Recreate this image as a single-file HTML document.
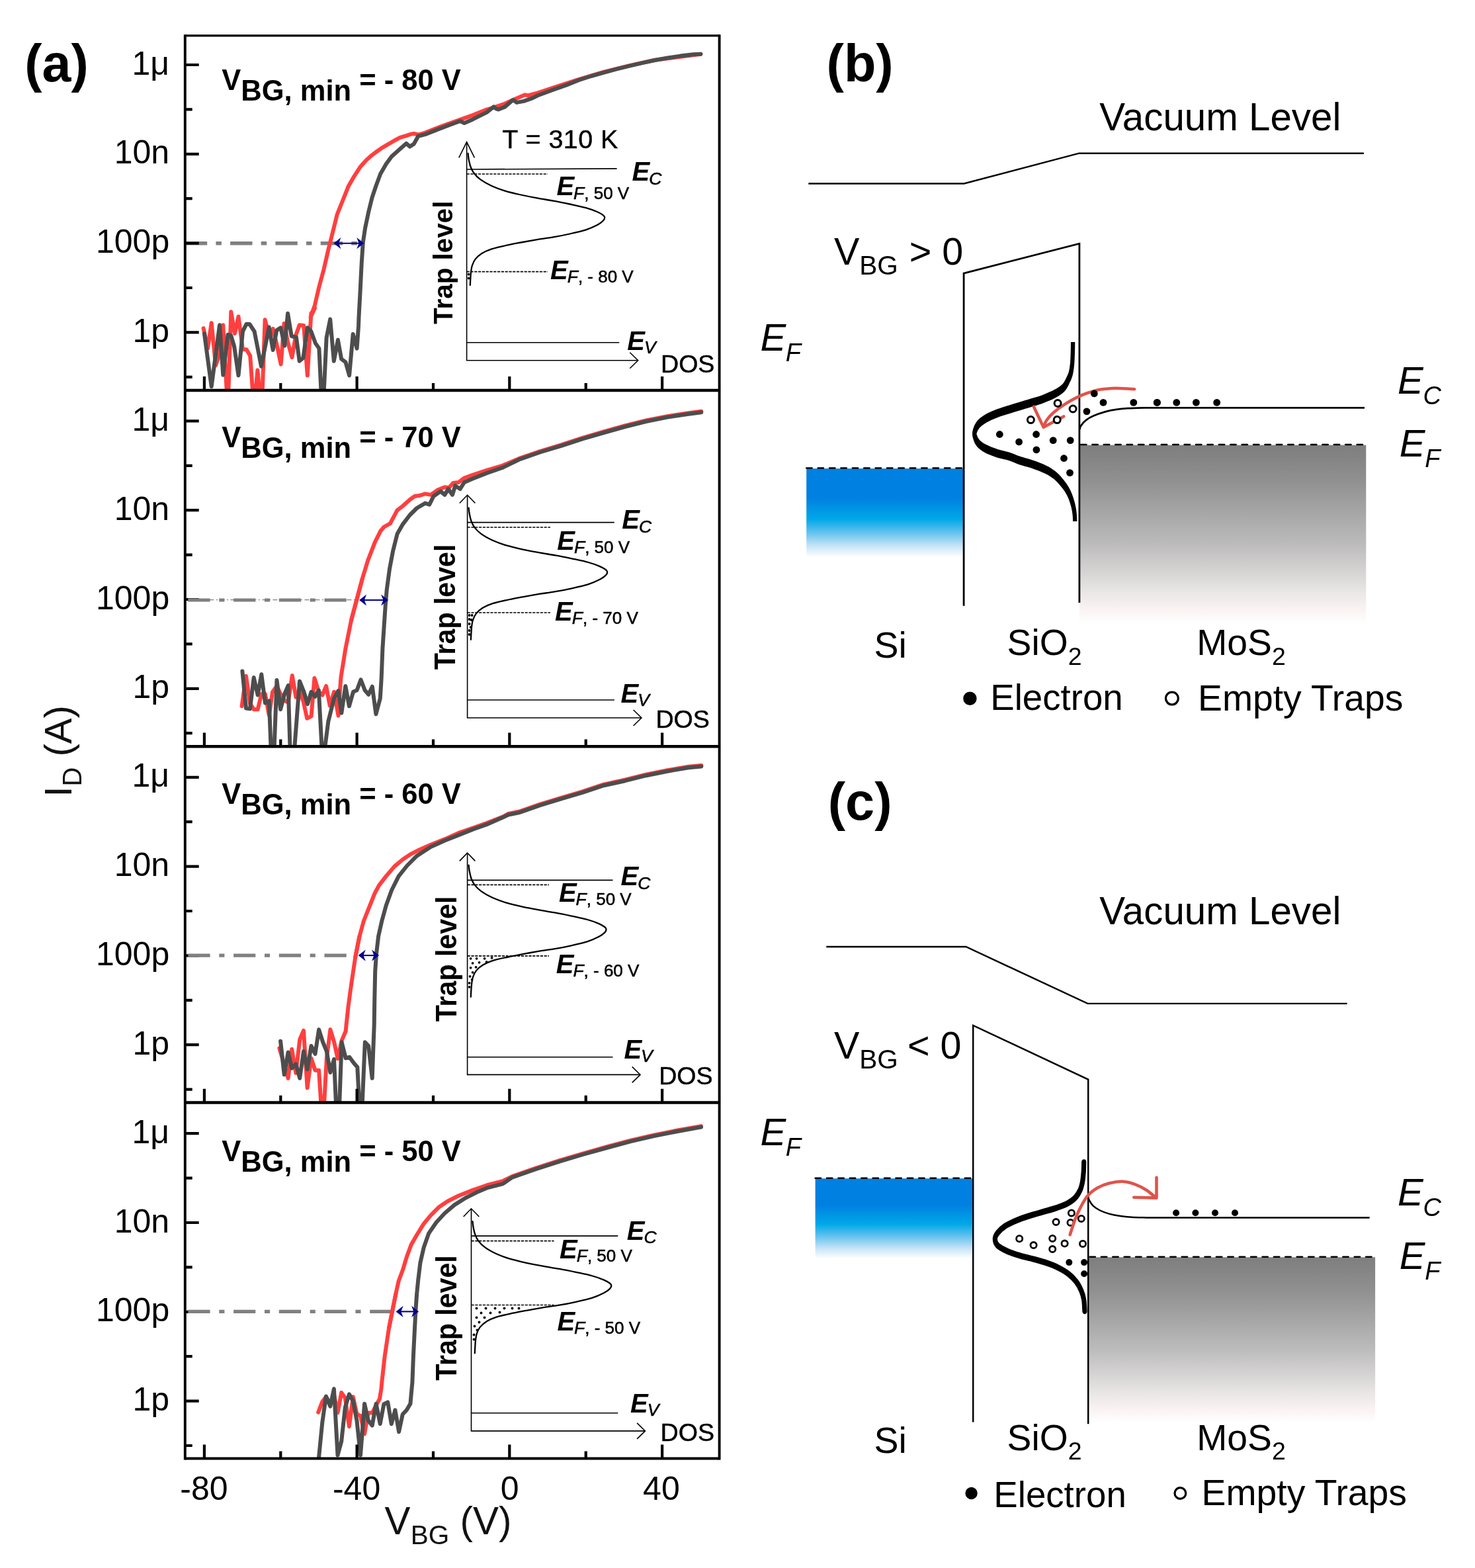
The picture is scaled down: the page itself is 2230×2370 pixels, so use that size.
<!DOCTYPE html>
<html lang="en">
<head>
<meta charset="utf-8">
<title>Figure: hysteresis vs back-gate sweep range and trap band diagrams</title>
<style>
html,body{margin:0;padding:0;background:#fff;}
body{width:2230px;height:2370px;overflow:hidden;}
svg{display:block;font-family:"Liberation Sans", Arial, Helvetica, sans-serif;}
</style>
</head>
<body>
<svg width="2230" height="2370" viewBox="0 0 2230 2370">
<defs>
<clipPath id="cp0"><rect x="279.8" y="53.9" width="807.8" height="536.1"/></clipPath>
<clipPath id="cp1"><rect x="279.8" y="590.0" width="807.8" height="538.3"/></clipPath>
<clipPath id="cp2"><rect x="279.8" y="1128.3" width="807.8" height="538.3"/></clipPath>
<clipPath id="cp3"><rect x="279.8" y="1666.6" width="807.8" height="537.9"/></clipPath>
</defs>
<g id="panel-a">
<g clip-path="url(#cp0)">
<line x1="279.8" y1="367.7" x2="541.0" y2="367.7" stroke="#808080" stroke-width="5.5" stroke-dasharray="33.4 13.2 8.5 13.2"/>
<polyline points="307.6,496.1 314.1,526.6 319.7,488.1 326.1,552.2 331.7,536.2 337.3,491.3 342.9,593.9 345.3,593.9 349.3,471.3 354.9,504.1 360.5,478.5 367.0,528.2 372.6,528.2 378.2,537.8 382.2,593.9 386.2,593.9 389.4,559.4 392.6,593.9 396.6,593.9 400.6,483.3 407.0,507.3 412.7,496.9 418.3,520.2 424.7,550.6 429.5,488.9 435.1,517.0 441.5,540.2 447.1,507.3 452.7,491.3 459.2,492.1 464.8,567.5 470.4,473.7 476.0,465.7 469.6,479.4 475.9,461.4 482.3,434.0 489.7,406.5 496.0,379.0 503.4,349.5 509.7,324.1 518.2,303.0 526.6,281.8 535.1,267.1 544.6,252.3 554.1,241.7 562.5,234.3 571.0,228.0 579.4,222.3 587.9,217.4 596.3,212.5 604.8,207.9 613.3,205.4 621.7,202.6 625.9,202.0 633.3,203.7 642.8,200.5 661.8,193.1 678.7,186.8 695.7,180.9 714.7,174.1 735.8,165.6 740.0,164.5 763.1,156.8 775.6,151.0 793.9,143.3 797.7,144.3 813.1,140.4 836.2,132.7 874.7,120.2 913.2,108.7 951.7,99.1 990.1,90.8 1059.4,81.7" fill="none" stroke="#ff3f3f" stroke-width="6.0" stroke-linejoin="round" stroke-linecap="round"/>
<polyline points="308.9,504.1 319.7,584.3 332.0,491.3 337.3,566.7 344.5,505.7 349.3,507.3 354.1,523.4 360.5,567.5 367.0,500.9 372.6,489.7 377.4,490.0 384.6,500.9 395.0,553.8 406.7,494.5 412.7,529.0 418.3,499.3 424.4,495.3 430.3,522.6 435.1,473.7 440.7,508.1 447.9,509.7 452.7,545.8 458.4,541.0 464.8,495.3 470.4,500.9 476.8,518.6 482.4,526.6 485.6,593.9 489.6,593.9 493.6,510.5 499.2,482.5 504.8,545.8 510.9,513.8 516.1,542.6 522.5,547.4 528.1,567.5 533.7,504.9 539.6,526.6 542.0,492.9 542.5,479.4 544.6,440.3 546.7,398.1 548.8,366.4 552.0,345.2 557.3,319.9 562.5,298.7 568.9,279.7 575.2,262.8 583.7,248.0 592.1,236.4 602.7,226.9 614.3,216.8 619.6,221.6 625.9,217.4 632.3,205.8 642.8,203.2 661.8,195.6 678.7,189.3 695.7,183.0 702.0,186.1 714.7,180.4 735.8,169.9 746.4,161.4 750.6,164.6 753.5,165.5 763.1,161.6 775.6,151.0 781.4,154.9 792.0,152.9 805.4,148.1 813.1,144.3 836.2,135.6 855.5,128.9 874.7,121.2 893.9,115.0 913.2,109.6 932.4,104.3 951.7,99.6 970.9,95.2 990.1,91.0 1009.4,87.5 1028.6,84.6 1047.9,82.3 1059.4,81.7" fill="none" stroke="#4d4d4d" stroke-width="6.0" stroke-linejoin="round" stroke-linecap="round"/>
</g>
<g clip-path="url(#cp1)">
<polyline points="365.6,1067.4 372.0,1021.7 378.0,1063.4 383.7,1072.2 389.7,1072.2 395.3,1048.9 400.9,1048.9 406.8,1081.0 412.1,1045.7 418.5,1036.9 424.1,1048.9 430.2,1058.6 435.7,1061.8 441.8,1020.9 447.4,1053.8 453.0,1044.1 458.6,1060.2 464.2,1085.8 470.6,1082.6 475.4,1024.9 481.9,1045.7 487.5,1050.5 493.1,1036.9 498.7,1066.6 505.1,1045.7 511.5,1081.8 513.9,1044.1 515.5,1023.3 516.1,1019.4 522.4,980.3 530.9,938.1 539.3,906.4 547.8,874.7 556.2,847.2 566.8,819.7 575.2,802.8 580.5,796.5 590.0,791.2 600.6,771.1 609.0,764.8 619.6,755.3 627.0,750.0 634.4,749.0 642.8,746.4 651.3,747.9 661.8,740.5 672.4,736.3 678.7,737.3 685.1,729.9 693.5,728.9 702.0,722.5 714.7,717.9 735.8,710.9 760.1,703.5 784.5,693.2 816.6,682.0 848.6,672.4 880.7,661.8 912.8,652.5 944.9,643.5 976.9,635.5 1009.0,629.1 1041.1,624.2 1060.3,621.7" fill="none" stroke="#ff3f3f" stroke-width="6.0" stroke-linejoin="round" stroke-linecap="round"/>
<polyline points="366.4,1014.5 372.0,1070.6 378.0,1071.4 383.7,1024.1 389.7,1050.5 395.3,1019.3 400.9,1062.6 406.8,1059.4 409.7,1133.9 414.5,1133.9 418.5,1028.1 424.1,1072.2 430.2,1048.9 435.7,1036.1 438.6,1133.9 445.0,1133.9 453.0,1029.7 459.4,1045.7 465.0,1064.2 470.6,1045.7 476.2,1053.0 481.9,1043.3 486.7,1133.9 490.7,1133.9 496.3,1090.6 505.1,1055.4 511.5,1044.1 516.3,1077.8 522.3,1036.9 527.9,1067.4 534.0,1045.7 539.6,1043.3 545.5,1027.3 551.6,1043.3 557.2,1049.7 562.8,1037.7 568.4,1079.4 574.8,1055.4 576.5,1028.1 576.9,1019.4 578.4,980.3 580.5,948.6 582.6,916.9 584.7,891.6 589.0,859.9 594.2,832.4 600.6,807.1 609.0,792.3 619.6,778.5 630.2,768.0 642.8,760.6 649.2,762.7 655.5,750.0 666.1,742.6 672.4,747.9 677.7,739.0 684.0,747.9 688.3,734.2 695.7,739.0 702.0,728.9 714.7,723.6 735.8,715.1 760.1,706.7 784.5,694.7 816.6,683.5 848.6,673.9 880.7,663.3 912.8,654.0 944.9,645.0 976.9,637.0 1009.0,630.6 1041.1,625.7 1060.3,623.2" fill="none" stroke="#4d4d4d" stroke-width="6.0" stroke-linejoin="round" stroke-linecap="round"/>
</g>
<g clip-path="url(#cp2)">
<polyline points="422.4,1584.1 429.7,1609.8 435.6,1629.8 441.2,1585.7 447.3,1621.8 453.2,1571.3 459.0,1557.7 464.6,1644.3 470.5,1599.4 476.5,1617.8 482.1,1617.8 485.8,1673.9 489.8,1673.9 493.8,1600.2 499.4,1556.1 505.0,1574.5 510.6,1600.2 516.6,1572.9 522.7,1558.5 523.5,1549.4 526.6,1520.9 530.9,1489.2 537.2,1446.9 543.5,1415.2 549.9,1392.0 558.3,1370.9 566.8,1349.7 573.1,1338.1 583.7,1324.4 596.3,1309.6 609.0,1299.0 621.7,1290.6 634.4,1284.2 651.3,1276.8 672.4,1268.4 693.5,1258.9 714.7,1251.5 735.8,1244.1 760.1,1234.6 768.5,1230.0 784.5,1226.8 816.6,1215.6 848.6,1205.9 880.7,1196.3 912.8,1185.7 944.9,1178.7 976.9,1170.7 1009.0,1164.2 1041.1,1158.8 1060.3,1156.9" fill="none" stroke="#ff3f3f" stroke-width="6.0" stroke-linejoin="round" stroke-linecap="round"/>
<polyline points="424.1,1573.7 429.7,1624.2 435.6,1590.5 441.2,1614.6 447.3,1608.2 453.2,1629.8 459.0,1588.9 464.6,1616.2 470.5,1580.9 476.5,1593.0 482.1,1556.1 487.9,1574.5 493.8,1588.9 499.4,1621.0 505.0,1601.0 508.2,1673.9 513.0,1673.9 516.6,1575.3 522.7,1599.4 528.3,1597.8 534.7,1606.6 540.3,1613.0 543.5,1673.9 547.5,1673.9 551.8,1575.3 557.1,1580.9 562.7,1629.8 564.8,1572.9 565.7,1549.4 566.3,1510.3 567.2,1468.1 568.9,1442.7 572.1,1415.2 577.3,1392.0 583.7,1368.7 592.1,1345.5 602.7,1324.4 615.4,1308.5 630.2,1293.7 651.3,1280.0 672.4,1270.5 693.5,1262.1 714.7,1253.6 735.8,1246.2 760.1,1235.6 768.5,1231.5 784.5,1228.3 816.6,1217.1 848.6,1207.4 880.7,1197.8 912.8,1187.2 944.9,1180.2 976.9,1172.2 1009.0,1165.7 1041.1,1160.3 1060.3,1158.4" fill="none" stroke="#4d4d4d" stroke-width="6.0" stroke-linejoin="round" stroke-linecap="round"/>
</g>
<g clip-path="url(#cp3)">
<polyline points="481.2,2134.6 487.3,2118.5 492.9,2111.3 499.3,2120.9 504.9,2108.1 510.5,2135.4 516.2,2104.9 521.8,2112.9 527.9,2156.2 533.8,2111.3 539.4,2137.0 545.0,2140.2 551.1,2167.4 556.6,2135.4 562.7,2135.4 568.6,2124.1 573.9,2114.5 576.3,2100.1 577.3,2089.4 581.6,2050.3 587.9,2008.1 594.2,1976.4 598.5,1955.2 602.7,1936.2 609.0,1919.3 615.4,1898.2 621.7,1881.3 630.2,1866.5 640.7,1849.6 651.3,1836.9 664.0,1824.2 676.6,1815.8 693.5,1807.3 714.7,1798.9 735.8,1791.5 760.1,1785.1 774.3,1778.1 810.0,1765.6 845.7,1754.2 881.4,1743.5 917.1,1733.5 952.9,1723.9 988.6,1715.6 1024.3,1708.5 1060.0,1702.1" fill="none" stroke="#ff3f3f" stroke-width="6.0" stroke-linejoin="round" stroke-linecap="round"/>
<polyline points="480.9,2213.9 482.0,2203.5 487.3,2149.8 492.9,2110.5 499.3,2125.7 504.9,2099.3 510.5,2199.5 516.2,2178.6 521.8,2127.3 527.9,2107.3 533.8,2117.7 539.4,2146.6 545.0,2199.5 551.1,2121.7 556.6,2146.6 562.7,2154.6 568.6,2121.7 574.7,2152.2 580.3,2122.5 586.2,2119.3 591.8,2152.2 597.4,2131.3 603.1,2164.2 608.7,2137.8 614.8,2131.3 620.4,2121.7 622.1,2103.3 623.4,2089.4 624.9,2050.3 627.0,2008.1 628.7,1976.4 630.2,1955.2 632.3,1934.1 635.4,1908.7 640.7,1885.5 648.1,1864.4 659.7,1847.5 672.4,1833.7 687.2,1821.1 704.1,1810.5 721.0,1802.1 735.8,1795.7 760.1,1789.4 774.3,1779.6 810.0,1767.1 845.7,1755.7 881.4,1745.0 917.1,1735.0 952.9,1725.4 988.6,1717.1 1024.3,1710.0 1060.0,1703.6" fill="none" stroke="#4d4d4d" stroke-width="6.0" stroke-linejoin="round" stroke-linecap="round"/>
</g>
<path d="M281.2 98.0h19.5M281.2 165.4h9.5M281.2 232.8h19.5M281.2 300.2h9.5M281.2 367.6h19.5M281.2 435.0h9.5M281.2 502.4h19.5M281.2 569.8h9.5M308.9 588.6v-19.5M424.3 588.6v-9.5M539.6 588.6v-19.5M655.0 588.6v-9.5M770.3 588.6v-19.5M885.7 588.6v-9.5M1001.1 588.6v-19.5M281.2 636.4h19.5M281.2 703.8h9.5M281.2 771.2h19.5M281.2 838.6h9.5M281.2 906.0h19.5M281.2 973.4h9.5M281.2 1040.8h19.5M281.2 1108.2h9.5M308.9 1126.9v-19.5M424.3 1126.9v-9.5M539.6 1126.9v-19.5M655.0 1126.9v-9.5M770.3 1126.9v-19.5M885.7 1126.9v-9.5M1001.1 1126.9v-19.5M281.2 1174.8h19.5M281.2 1242.2h9.5M281.2 1309.6h19.5M281.2 1377.0h9.5M281.2 1444.4h19.5M281.2 1511.8h9.5M281.2 1579.2h19.5M281.2 1646.6h9.5M308.9 1665.2v-19.5M424.3 1665.2v-9.5M539.6 1665.2v-19.5M655.0 1665.2v-9.5M770.3 1665.2v-19.5M885.7 1665.2v-9.5M1001.1 1665.2v-19.5M281.2 1713.2h19.5M281.2 1780.6h9.5M281.2 1848.0h19.5M281.2 1915.4h9.5M281.2 1982.8h19.5M281.2 2050.2h9.5M281.2 2117.6h19.5M281.2 2185.0h9.5M308.9 2203.1v-19.5M424.3 2203.1v-9.5M539.6 2203.1v-19.5M655.0 2203.1v-9.5M770.3 2203.1v-19.5M885.7 2203.1v-9.5M1001.1 2203.1v-19.5" stroke="#000" stroke-width="4.2" fill="none"/>
<path d="M279.8 52.3V2206.4M1087.6 52.3V2206.4" fill="none" stroke="#000" stroke-width="3.9"/>
<line x1="279.8" y1="53.9" x2="1087.6" y2="53.9" stroke="#000" stroke-width="3.2" />
<line x1="279.8" y1="2204.5" x2="1087.6" y2="2204.5" stroke="#000" stroke-width="3.8" />
<line x1="279.8" y1="590.0" x2="1087.6" y2="590.0" stroke="#000" stroke-width="4.5" />
<line x1="279.8" y1="1128.3" x2="1087.6" y2="1128.3" stroke="#000" stroke-width="4.5" />
<line x1="279.8" y1="1666.6" x2="1087.6" y2="1666.6" stroke="#000" stroke-width="4.5" />
<g stroke="#00008b" fill="#00008b">
<line x1="508.4" y1="367.7" x2="546.3" y2="367.7" stroke-width="2.1"/>
<path d="M504.4 367.7 l11 -8.6 l-3.3 8.6 l3.3 8.6 z" stroke="none"/>
<path d="M550.3 367.7 l-11 -8.6 l3.3 8.6 l-3.3 8.6 z" stroke="none"/>
</g>
<line x1="284.4" y1="906.7" x2="537.0" y2="906.7" stroke="#808080" stroke-width="1.3" stroke-dasharray="7 3.5 2 3.5"/>
<line x1="284.4" y1="907.0" x2="524.0" y2="907.0" stroke="#808080" stroke-width="5.1" stroke-dasharray="33.2 13.7 8.1 13.7"/>
<g clip-path="url(#cp1)">
<polyline points="530.9,938.1 539.3,906.4 547.8,874.7" fill="none" stroke="#ff3f3f" stroke-width="6.0" stroke-linejoin="round" stroke-linecap="round"/>
</g>
<g stroke="#00008b" fill="#00008b">
<line x1="547.1" y1="907.0" x2="583.1" y2="907.0" stroke-width="2.1"/>
<path d="M543.1 907.0 l11 -8.6 l-3.3 8.6 l3.3 8.6 z" stroke="none"/>
<path d="M587.1 907.0 l-11 -8.6 l3.3 8.6 l-3.3 8.6 z" stroke="none"/>
</g>
<line x1="284.4" y1="1444.1" x2="524.0" y2="1444.1" stroke="#808080" stroke-width="5.1" stroke-dasharray="33.2 13.7 8.1 13.7"/>
<g clip-path="url(#cp2)">
<polyline points="537.2,1446.9 543.5,1415.2" fill="none" stroke="#ff3f3f" stroke-width="6.0" stroke-linejoin="round" stroke-linecap="round"/>
</g>
<g stroke="#00008b" fill="#00008b">
<line x1="545.7" y1="1444.1" x2="569.1" y2="1444.1" stroke-width="2.1"/>
<path d="M541.7 1444.1 l11 -8.6 l-3.3 8.6 l3.3 8.6 z" stroke="none"/>
<path d="M573.1 1444.1 l-11 -8.6 l3.3 8.6 l-3.3 8.6 z" stroke="none"/>
</g>
<line x1="284.4" y1="1982.4" x2="596.0" y2="1982.4" stroke="#808080" stroke-width="5.1" stroke-dasharray="33.2 13.7 8.1 13.7"/>
<g clip-path="url(#cp3)">
<polyline points="587.9,2008.1 594.2,1976.4 598.5,1955.2" fill="none" stroke="#ff3f3f" stroke-width="6.0" stroke-linejoin="round" stroke-linecap="round"/>
</g>
<g stroke="#00008b" fill="#00008b">
<line x1="602.6" y1="1982.4" x2="629.1" y2="1982.4" stroke-width="2.1"/>
<path d="M598.6 1982.4 l11 -8.6 l-3.3 8.6 l3.3 8.6 z" stroke="none"/>
<path d="M633.1 1982.4 l-11 -8.6 l3.3 8.6 l-3.3 8.6 z" stroke="none"/>
</g>
<text x="256.2" y="112.5" font-size="50" font-weight="normal" font-style="normal" text-anchor="end" fill="#000" >1μ</text>
<text x="256.2" y="247.3" font-size="50" font-weight="normal" font-style="normal" text-anchor="end" fill="#000" >10n</text>
<text x="256.2" y="382.1" font-size="50" font-weight="normal" font-style="normal" text-anchor="end" fill="#000" >100p</text>
<text x="256.2" y="516.9" font-size="50" font-weight="normal" font-style="normal" text-anchor="end" fill="#000" >1p</text>
<text x="256.2" y="650.9" font-size="50" font-weight="normal" font-style="normal" text-anchor="end" fill="#000" >1μ</text>
<text x="256.2" y="785.7" font-size="50" font-weight="normal" font-style="normal" text-anchor="end" fill="#000" >10n</text>
<text x="256.2" y="920.5" font-size="50" font-weight="normal" font-style="normal" text-anchor="end" fill="#000" >100p</text>
<text x="256.2" y="1055.3" font-size="50" font-weight="normal" font-style="normal" text-anchor="end" fill="#000" >1p</text>
<text x="256.2" y="1189.3" font-size="50" font-weight="normal" font-style="normal" text-anchor="end" fill="#000" >1μ</text>
<text x="256.2" y="1324.1" font-size="50" font-weight="normal" font-style="normal" text-anchor="end" fill="#000" >10n</text>
<text x="256.2" y="1458.9" font-size="50" font-weight="normal" font-style="normal" text-anchor="end" fill="#000" >100p</text>
<text x="256.2" y="1593.7" font-size="50" font-weight="normal" font-style="normal" text-anchor="end" fill="#000" >1p</text>
<text x="256.2" y="1727.7" font-size="50" font-weight="normal" font-style="normal" text-anchor="end" fill="#000" >1μ</text>
<text x="256.2" y="1862.5" font-size="50" font-weight="normal" font-style="normal" text-anchor="end" fill="#000" >10n</text>
<text x="256.2" y="1997.3" font-size="50" font-weight="normal" font-style="normal" text-anchor="end" fill="#000" >100p</text>
<text x="256.2" y="2132.1" font-size="50" font-weight="normal" font-style="normal" text-anchor="end" fill="#000" >1p</text>
<text x="308.4" y="2267.0" font-size="50" font-weight="normal" font-style="normal" text-anchor="middle" fill="#000" >-80</text>
<text x="539.1" y="2267.0" font-size="50" font-weight="normal" font-style="normal" text-anchor="middle" fill="#000" >-40</text>
<text x="770.6" y="2267.0" font-size="50" font-weight="normal" font-style="normal" text-anchor="middle" fill="#000" >0</text>
<text x="999.9" y="2267.0" font-size="50" font-weight="normal" font-style="normal" text-anchor="middle" fill="#000" >40</text>
<text x="581.4" y="2319.4" font-size="58.4" fill="#111">V<tspan font-size="40.5" dy="14.6" dx="0.5">BG</tspan><tspan dy="-14.6"> (V)</tspan></text>
<text transform="translate(107.6 1204.6) rotate(-90)" font-size="58" fill="#111">I<tspan font-size="40" dy="15.7">D</tspan><tspan dy="-15.7"> (A)</tspan></text>
<text x="37.3" y="123.0" font-size="79" font-weight="bold" font-style="normal" text-anchor="start" fill="#000" >(a)</text>
<text x="335.3" y="135.9" font-size="43.5" font-weight="bold">V<tspan dy="16.4">BG, min</tspan><tspan dy="-16.4"> = - 80 V</tspan></text>
<text x="335.3" y="675.9" font-size="43.5" font-weight="bold">V<tspan dy="16.4">BG, min</tspan><tspan dy="-16.4"> = - 70 V</tspan></text>
<text x="335.3" y="1214.5" font-size="43.5" font-weight="bold">V<tspan dy="16.4">BG, min</tspan><tspan dy="-16.4"> = - 60 V</tspan></text>
<text x="335.3" y="1754.7" font-size="43.5" font-weight="bold">V<tspan dy="16.4">BG, min</tspan><tspan dy="-16.4"> = - 50 V</tspan></text>
<g id="insets" fill="none" stroke="#000">
<path d="M705.6 215.6V544.8H963.6" stroke-width="1.6"/><path d="M693.8 238.4L705.6 214.6L717.4 238.4" stroke-width="1.6"/><path d="M952.3 532.8L964.6 544.8L952.3 556.8" stroke-width="1.6"/><path d="M705.6 256.0L932.6 254.9" stroke-width="1.7"/><path d="M705.6 517.8H936.3" stroke-width="1.6"/><path d="M705.6 263.0H828.0" stroke-width="1.7" stroke-dasharray="4.2 1.6"/><path d="M705.6 410.6H828.0" stroke-width="1.7" stroke-dasharray="4.2 1.6"/><path d="M707.6 231.8C707.7 232.6 707.9 235.1 708.1 236.7C708.3 238.4 708.3 239.2 708.8 241.6C709.4 244.1 710.1 248.2 711.3 251.5C712.5 254.7 713.8 258.0 716.2 261.3C718.7 264.6 721.6 267.9 726.1 271.1C730.6 274.4 737.1 278.1 743.3 281.0C749.4 283.8 755.6 286.1 762.9 288.4C770.3 290.6 779.3 292.7 787.5 294.5C795.7 296.3 803.9 297.9 812.1 299.4C820.3 300.9 828.5 302.1 836.7 303.6C844.9 305.1 853.1 306.8 861.3 308.5C869.5 310.3 878.9 312.2 885.9 314.2C892.8 316.1 898.8 318.5 903.1 320.3C907.4 322.2 909.9 323.8 911.7 325.2C913.5 326.7 914.2 327.5 914.2 328.9C914.2 330.4 913.5 332.0 911.7 333.8C909.9 335.7 907.4 337.7 903.1 340.0C898.8 342.2 892.8 345.1 885.9 347.4C878.9 349.6 869.5 351.7 861.3 353.5C853.1 355.4 844.9 357.0 836.7 358.4C828.5 359.9 820.3 360.8 812.1 362.1C803.9 363.5 795.7 365.0 787.5 366.5C779.3 368.1 770.3 369.8 762.9 371.5C755.6 373.1 749.0 374.5 743.3 376.4C737.5 378.3 732.6 380.5 728.5 383.0C724.4 385.6 721.1 388.5 718.7 391.6C716.2 394.7 714.9 398.2 713.8 401.5C712.7 404.7 712.5 408.0 712.0 411.3C711.6 414.6 711.5 417.9 711.3 421.1C711.1 424.4 710.9 429.3 710.8 431.0" stroke-width="2.3" stroke-linecap="round"/><circle cx="708.6" cy="414.6" r="1.9" fill="#000" stroke="none"/><circle cx="708.6" cy="420.6" r="1.9" fill="#000" stroke="none"/>
<path d="M706.6 749.3V1085.0H968.9" stroke-width="1.6"/><path d="M694.8 760.5L706.6 748.3L718.4 760.5" stroke-width="1.6"/><path d="M957.6 1073.0L969.9 1085.0L957.6 1097.0" stroke-width="1.6"/><path d="M706.6 789.6L928.8 789.6" stroke-width="1.7"/><path d="M706.6 1058.0H928.8" stroke-width="1.6"/><path d="M706.6 797.0H832.0" stroke-width="1.7" stroke-dasharray="4.2 1.6"/><path d="M706.6 926.0H832.0" stroke-width="1.7" stroke-dasharray="4.2 1.6"/><path d="M708.6 767.6C708.7 768.4 708.9 770.9 709.1 772.5C709.4 774.2 709.4 775.0 709.9 777.4C710.4 779.9 711.1 784.0 712.4 787.3C713.6 790.5 714.9 793.8 717.4 797.1C719.9 800.4 722.8 803.7 727.4 806.9C731.9 810.2 738.6 813.9 744.8 816.8C751.0 819.6 757.3 821.9 764.8 824.2C772.2 826.4 781.4 828.5 789.7 830.3C798.0 832.1 806.3 833.7 814.6 835.2C823.0 836.7 831.3 837.9 839.6 839.4C847.9 840.9 856.2 842.6 864.5 844.3C872.8 846.1 882.4 848.0 889.5 850.0C896.5 851.9 902.6 854.3 906.9 856.1C911.3 858.0 913.8 859.6 915.7 861.0C917.5 862.5 918.2 863.3 918.2 864.7C918.2 866.2 917.5 867.8 915.7 869.6C913.8 871.5 911.3 873.5 906.9 875.8C902.6 878.0 896.5 880.9 889.5 883.2C882.4 885.4 872.8 887.5 864.5 889.3C856.2 891.2 847.9 892.8 839.6 894.2C831.3 895.7 823.0 896.6 814.6 897.9C806.3 899.3 798.0 900.8 789.7 902.3C781.4 903.9 772.2 905.6 764.8 907.3C757.3 908.9 750.6 910.3 744.8 912.2C739.0 914.1 734.0 916.3 729.8 918.8C725.7 921.4 722.4 924.3 719.9 927.4C717.4 930.5 716.0 934.0 714.9 937.3C713.8 940.5 713.6 943.8 713.1 947.1C712.7 950.4 712.6 953.7 712.4 956.9C712.2 960.2 712.0 965.1 711.9 966.8" stroke-width="2.3" stroke-linecap="round"/><circle cx="709.6" cy="930.0" r="1.9" fill="#000" stroke="none"/><circle cx="713.6" cy="930.0" r="1.9" fill="#000" stroke="none"/><circle cx="709.6" cy="936.0" r="1.9" fill="#000" stroke="none"/><circle cx="712.6" cy="937.0" r="1.9" fill="#000" stroke="none"/><circle cx="709.6" cy="943.0" r="1.9" fill="#000" stroke="none"/><circle cx="711.6" cy="948.0" r="1.9" fill="#000" stroke="none"/><circle cx="709.6" cy="953.0" r="1.9" fill="#000" stroke="none"/><circle cx="709.6" cy="959.0" r="1.9" fill="#000" stroke="none"/>
<path d="M706.6 1290.2V1624.4H967.0" stroke-width="1.6"/><path d="M694.8 1301.4L706.6 1289.2L718.4 1301.4" stroke-width="1.6"/><path d="M955.7 1612.4L968.0 1624.4L955.7 1636.4" stroke-width="1.6"/><path d="M706.6 1330.3L926.5 1330.3" stroke-width="1.7"/><path d="M706.6 1597.8H926.5" stroke-width="1.6"/><path d="M706.6 1337.3H830.0" stroke-width="1.7" stroke-dasharray="4.2 1.6"/><path d="M706.6 1444.8H830.0" stroke-width="1.7" stroke-dasharray="4.2 1.6"/><path d="M708.6 1307.6C708.7 1308.4 708.9 1310.9 709.1 1312.5C709.3 1314.2 709.3 1315.0 709.9 1317.4C710.4 1319.9 711.1 1324.0 712.3 1327.3C713.6 1330.5 714.8 1333.8 717.3 1337.1C719.8 1340.4 722.7 1343.7 727.2 1346.9C731.7 1350.2 738.3 1353.9 744.5 1356.8C750.7 1359.6 756.9 1361.9 764.3 1364.2C771.8 1366.4 780.8 1368.5 789.1 1370.3C797.3 1372.1 805.6 1373.7 813.8 1375.2C822.1 1376.7 830.3 1377.9 838.6 1379.4C846.8 1380.9 855.1 1382.6 863.3 1384.3C871.6 1386.1 881.1 1388.0 888.1 1390.0C895.1 1391.9 901.1 1394.3 905.4 1396.1C909.8 1398.0 912.2 1399.6 914.1 1401.0C915.9 1402.5 916.6 1403.3 916.6 1404.7C916.6 1406.2 915.9 1407.8 914.1 1409.6C912.2 1411.5 909.8 1413.5 905.4 1415.8C901.1 1418.0 895.1 1420.9 888.1 1423.2C881.1 1425.4 871.6 1427.5 863.3 1429.3C855.1 1431.2 846.8 1432.8 838.6 1434.2C830.3 1435.7 822.1 1436.6 813.8 1437.9C805.6 1439.3 797.3 1440.8 789.1 1442.3C780.8 1443.9 771.8 1445.6 764.3 1447.3C756.9 1448.9 750.3 1450.3 744.5 1452.2C738.7 1454.1 733.8 1456.3 729.7 1458.8C725.5 1461.4 722.2 1464.3 719.8 1467.4C717.3 1470.5 715.9 1474.0 714.8 1477.3C713.7 1480.5 713.5 1483.8 713.1 1487.1C712.7 1490.4 712.6 1493.7 712.3 1496.9C712.1 1500.2 711.9 1505.1 711.8 1506.8" stroke-width="2.3" stroke-linecap="round"/><circle cx="711.6" cy="1448.8" r="1.9" fill="#000" stroke="none"/><circle cx="720.6" cy="1448.8" r="1.9" fill="#000" stroke="none"/><circle cx="732.6" cy="1448.8" r="1.9" fill="#000" stroke="none"/><circle cx="743.6" cy="1447.8" r="1.9" fill="#000" stroke="none"/><circle cx="714.6" cy="1455.8" r="1.9" fill="#000" stroke="none"/><circle cx="724.6" cy="1454.8" r="1.9" fill="#000" stroke="none"/><circle cx="735.6" cy="1453.8" r="1.9" fill="#000" stroke="none"/><circle cx="711.6" cy="1462.8" r="1.9" fill="#000" stroke="none"/><circle cx="719.6" cy="1461.8" r="1.9" fill="#000" stroke="none"/><circle cx="714.6" cy="1469.8" r="1.9" fill="#000" stroke="none"/><circle cx="710.6" cy="1475.8" r="1.9" fill="#000" stroke="none"/><circle cx="713.6" cy="1480.8" r="1.9" fill="#000" stroke="none"/><circle cx="709.6" cy="1485.8" r="1.9" fill="#000" stroke="none"/><circle cx="709.6" cy="1491.8" r="1.9" fill="#000" stroke="none"/>
<path d="M712.5 1827.8V2162.9H974.4" stroke-width="1.6"/><path d="M700.7 1839.0L712.5 1826.8L724.3 1839.0" stroke-width="1.6"/><path d="M963.1 2150.9L975.4 2162.9L963.1 2174.9" stroke-width="1.6"/><path d="M712.5 1868.2L934.3 1868.2" stroke-width="1.7"/><path d="M712.5 2135.7H934.3" stroke-width="1.6"/><path d="M712.5 1875.7H837.5" stroke-width="1.7" stroke-dasharray="4.2 1.6"/><path d="M712.5 1972.5H837.5" stroke-width="1.7" stroke-dasharray="4.2 1.6"/><path d="M714.5 1846.1C714.6 1846.9 714.8 1849.4 715.0 1851.0C715.3 1852.7 715.3 1853.5 715.8 1855.9C716.3 1858.4 717.0 1862.5 718.3 1865.8C719.5 1869.0 720.8 1872.3 723.3 1875.6C725.8 1878.9 728.7 1882.2 733.3 1885.4C737.8 1888.7 744.5 1892.4 750.7 1895.3C757.0 1898.1 763.2 1900.4 770.7 1902.7C778.2 1904.9 787.4 1907.0 795.7 1908.8C804.0 1910.6 812.3 1912.2 820.7 1913.7C829.0 1915.2 837.3 1916.4 845.6 1917.9C853.9 1919.4 862.3 1921.1 870.6 1922.8C878.9 1924.6 888.5 1926.5 895.5 1928.5C902.6 1930.4 908.7 1932.8 913.0 1934.6C917.4 1936.5 919.9 1938.1 921.8 1939.5C923.6 1941.0 924.3 1941.8 924.3 1943.2C924.3 1944.7 923.6 1946.3 921.8 1948.1C919.9 1950.0 917.4 1952.0 913.0 1954.3C908.7 1956.5 902.6 1959.4 895.5 1961.7C888.5 1963.9 878.9 1966.0 870.6 1967.8C862.3 1969.7 853.9 1971.3 845.6 1972.7C837.3 1974.2 829.0 1975.1 820.7 1976.4C812.3 1977.8 804.0 1979.3 795.7 1980.8C787.4 1982.4 778.2 1984.1 770.7 1985.8C763.2 1987.4 756.6 1988.8 750.7 1990.7C744.9 1992.6 739.9 1994.8 735.8 1997.3C731.6 1999.9 728.3 2002.8 725.8 2005.9C723.3 2009.0 721.9 2012.5 720.8 2015.8C719.7 2019.0 719.5 2022.3 719.0 2025.6C718.6 2028.9 718.5 2032.2 718.3 2035.4C718.1 2038.7 717.9 2043.6 717.8 2045.3" stroke-width="2.3" stroke-linecap="round"/><circle cx="720.5" cy="1977.5" r="1.9" fill="#000" stroke="none"/><circle cx="734.5" cy="1977.5" r="1.9" fill="#000" stroke="none"/><circle cx="748.5" cy="1977.5" r="1.9" fill="#000" stroke="none"/><circle cx="762.5" cy="1977.5" r="1.9" fill="#000" stroke="none"/><circle cx="774.5" cy="1977.5" r="1.9" fill="#000" stroke="none"/><circle cx="784.5" cy="1977.5" r="1.9" fill="#000" stroke="none"/><circle cx="727.5" cy="1984.5" r="1.9" fill="#000" stroke="none"/><circle cx="741.5" cy="1984.5" r="1.9" fill="#000" stroke="none"/><circle cx="755.5" cy="1983.5" r="1.9" fill="#000" stroke="none"/><circle cx="720.5" cy="1991.5" r="1.9" fill="#000" stroke="none"/><circle cx="732.5" cy="1991.5" r="1.9" fill="#000" stroke="none"/><circle cx="724.5" cy="1998.5" r="1.9" fill="#000" stroke="none"/><circle cx="717.5" cy="2004.5" r="1.9" fill="#000" stroke="none"/><circle cx="721.5" cy="2010.5" r="1.9" fill="#000" stroke="none"/><circle cx="716.5" cy="2017.5" r="1.9" fill="#000" stroke="none"/><circle cx="716.5" cy="2024.5" r="1.9" fill="#000" stroke="none"/>
</g>
<g id="inset-labels" fill="#000">
<text x="955.5" y="273.1" font-size="40" font-weight="bold" font-style="italic">E<tspan font-size="26.5" font-weight="normal" font-style="italic" stroke="#000" stroke-width="0.55" dy="5.5" dx="-1">C</tspan></text>
<text x="841.4" y="295.2" font-size="40" font-weight="bold" font-style="italic">E<tspan font-size="26.5" font-weight="normal" font-style="italic" stroke="#000" stroke-width="0.55" dy="5.5" dx="-1">F</tspan><tspan font-size="26" font-weight="normal" font-style="normal" stroke="#000" stroke-width="0.55">, 50 V</tspan></text>
<text x="832.0" y="421.9" font-size="40" font-weight="bold" font-style="italic">E<tspan font-size="26.5" font-weight="normal" font-style="italic" stroke="#000" stroke-width="0.55" dy="5.5" dx="-1">F</tspan><tspan font-size="26" font-weight="normal" font-style="normal" stroke="#000" stroke-width="0.55">, - 80 V</tspan></text>
<text x="948.3" y="528.8" font-size="40" font-weight="bold" font-style="italic">E<tspan font-size="26.5" font-weight="normal" font-style="italic" stroke="#000" stroke-width="0.55" dy="5.5" dx="-1">V</tspan></text>
<text x="999.0" y="562.8" font-size="37.6" font-weight="normal" font-style="normal" text-anchor="start" fill="#000" stroke="#000" stroke-width="0.5">DOS</text>
<text transform="translate(684.3 490.0) rotate(-90)" font-size="40" font-weight="bold" textLength="186.5" lengthAdjust="spacingAndGlyphs">Trap level</text>
<text x="940.2" y="799.4" font-size="40" font-weight="bold" font-style="italic">E<tspan font-size="26.5" font-weight="normal" font-style="italic" stroke="#000" stroke-width="0.55" dy="5.5" dx="-1">C</tspan></text>
<text x="842.3" y="830.5" font-size="40" font-weight="bold" font-style="italic">E<tspan font-size="26.5" font-weight="normal" font-style="italic" stroke="#000" stroke-width="0.55" dy="5.5" dx="-1">F</tspan><tspan font-size="26" font-weight="normal" font-style="normal" stroke="#000" stroke-width="0.55">, 50 V</tspan></text>
<text x="839.1" y="937.9" font-size="40" font-weight="bold" font-style="italic">E<tspan font-size="26.5" font-weight="normal" font-style="italic" stroke="#000" stroke-width="0.55" dy="5.5" dx="-1">F</tspan><tspan font-size="26" font-weight="normal" font-style="normal" stroke="#000" stroke-width="0.55">, - 70 V</tspan></text>
<text x="938.5" y="1061.5" font-size="40" font-weight="bold" font-style="italic">E<tspan font-size="26.5" font-weight="normal" font-style="italic" stroke="#000" stroke-width="0.55" dy="5.5" dx="-1">V</tspan></text>
<text x="991.4" y="1099.8" font-size="37.6" font-weight="normal" font-style="normal" text-anchor="start" fill="#000" stroke="#000" stroke-width="0.5">DOS</text>
<text transform="translate(688.3 1012.2) rotate(-90)" font-size="44" font-weight="bold" textLength="189.5" lengthAdjust="spacingAndGlyphs">Trap level</text>
<text x="938.5" y="1338.4" font-size="40" font-weight="bold" font-style="italic">E<tspan font-size="26.5" font-weight="normal" font-style="italic" stroke="#000" stroke-width="0.55" dy="5.5" dx="-1">C</tspan></text>
<text x="844.9" y="1362.5" font-size="40" font-weight="bold" font-style="italic">E<tspan font-size="26.5" font-weight="normal" font-style="italic" stroke="#000" stroke-width="0.55" dy="5.5" dx="-1">F</tspan><tspan font-size="26" font-weight="normal" font-style="normal" stroke="#000" stroke-width="0.55">, 50 V</tspan></text>
<text x="840.7" y="1470.5" font-size="40" font-weight="bold" font-style="italic">E<tspan font-size="26.5" font-weight="normal" font-style="italic" stroke="#000" stroke-width="0.55" dy="5.5" dx="-1">F</tspan><tspan font-size="26" font-weight="normal" font-style="normal" stroke="#000" stroke-width="0.55">, - 60 V</tspan></text>
<text x="943.4" y="1599.8" font-size="40" font-weight="bold" font-style="italic">E<tspan font-size="26.5" font-weight="normal" font-style="italic" stroke="#000" stroke-width="0.55" dy="5.5" dx="-1">V</tspan></text>
<text x="996.2" y="1638.8" font-size="37.6" font-weight="normal" font-style="normal" text-anchor="start" fill="#000" stroke="#000" stroke-width="0.5">DOS</text>
<text transform="translate(689.9 1544.2) rotate(-90)" font-size="44" font-weight="bold" textLength="189.5" lengthAdjust="spacingAndGlyphs">Trap level</text>
<text x="947.8" y="1873.8" font-size="40" font-weight="bold" font-style="italic">E<tspan font-size="26.5" font-weight="normal" font-style="italic" stroke="#000" stroke-width="0.55" dy="5.5" dx="-1">C</tspan></text>
<text x="846.0" y="1901.6" font-size="40" font-weight="bold" font-style="italic">E<tspan font-size="26.5" font-weight="normal" font-style="italic" stroke="#000" stroke-width="0.55" dy="5.5" dx="-1">F</tspan><tspan font-size="26" font-weight="normal" font-style="normal" stroke="#000" stroke-width="0.55">, 50 V</tspan></text>
<text x="842.4" y="2010.5" font-size="40" font-weight="bold" font-style="italic">E<tspan font-size="26.5" font-weight="normal" font-style="italic" stroke="#000" stroke-width="0.55" dy="5.5" dx="-1">F</tspan><tspan font-size="26" font-weight="normal" font-style="normal" stroke="#000" stroke-width="0.55">, - 50 V</tspan></text>
<text x="953.1" y="2134.5" font-size="40" font-weight="bold" font-style="italic">E<tspan font-size="26.5" font-weight="normal" font-style="italic" stroke="#000" stroke-width="0.55" dy="5.5" dx="-1">V</tspan></text>
<text x="998.6" y="2177.9" font-size="37.6" font-weight="normal" font-style="normal" text-anchor="start" fill="#000" stroke="#000" stroke-width="0.5">DOS</text>
<text transform="translate(690.4 2086.8) rotate(-90)" font-size="44" font-weight="bold" textLength="189.5" lengthAdjust="spacingAndGlyphs">Trap level</text>
<text x="759.3" y="224.4" font-size="39.5" font-weight="normal" font-style="normal" text-anchor="start" fill="#000" textLength="175" lengthAdjust="spacing" stroke="#000" stroke-width="0.4">T = 310 K</text>
</g>
</g>
<defs>
<linearGradient id="gblue" x1="0" y1="0" x2="0" y2="1"><stop offset="0" stop-color="#0080e1"/><stop offset="0.33" stop-color="#0080e1"/><stop offset="0.57" stop-color="#00a8e8"/><stop offset="0.72" stop-color="#62c1ee"/><stop offset="0.87" stop-color="#c4e3f6"/><stop offset="1" stop-color="#ffffff"/></linearGradient>
<linearGradient id="ggray" x1="0" y1="0" x2="0" y2="1"><stop offset="0" stop-color="#7f7f7f"/><stop offset="0.06" stop-color="#838383"/><stop offset="0.20" stop-color="#909090"/><stop offset="0.38" stop-color="#a6a6a6"/><stop offset="0.56" stop-color="#bdbcbc"/><stop offset="0.74" stop-color="#dbd8d8"/><stop offset="0.83" stop-color="#ebe7e7"/><stop offset="0.92" stop-color="#f9f3f2"/><stop offset="1" stop-color="#ffffff"/></linearGradient>
</defs>
<rect x="1219.2" y="708.2" width="237.9" height="133.8" fill="url(#gblue)"/>
<rect x="1632.0" y="672.7" width="433.3" height="269.3" fill="url(#ggray)"/>
<path d="M1219.2 707.6H1457.1" stroke="#000" stroke-width="2.5" stroke-dasharray="8.4 9.0" stroke-linecap="round" fill="none"/>
<path d="M1634.0 672.1H2065.3" stroke="#000" stroke-width="2.5" stroke-dasharray="8.4 9.0" stroke-linecap="round" fill="none"/>
<polyline points="1222.3,277.5 1457.5,277.5 1631.5,231.7 2061.9,231.7" fill="none" stroke="#000" stroke-width="2.4" stroke-linejoin="miter"/>
<polyline points="1457.1,915.7 1457.1,413.1 1631.9,368.2 1631.9,910.9" fill="none" stroke="#000" stroke-width="2.8" stroke-linejoin="miter"/>
<path d="M1632.4 649.1C1632.7 648.2 1632.5 646.0 1634.1 643.7C1635.7 641.3 1638.5 637.7 1641.8 635.1C1645.1 632.5 1648.9 630.4 1653.8 628.3C1658.6 626.1 1665.2 623.9 1670.9 622.3C1676.6 620.7 1682.3 619.7 1688.0 618.9C1693.7 618.0 1698.0 617.6 1705.1 617.2C1712.2 616.7 1726.5 616.4 1730.7 616.3H2063" fill="none" stroke="#000" stroke-width="2.8"/>
<g transform="translate(0 517.1) scale(1 2.0)"><path d="M1622.1 0.0C1622.1 1.4 1622.0 5.7 1621.8 8.6C1621.6 11.4 1621.5 14.5 1620.9 17.1C1620.4 19.7 1619.8 21.9 1618.7 23.9C1617.6 25.9 1616.3 27.3 1614.4 29.1C1612.6 30.9 1611.0 32.9 1607.6 34.6C1604.2 36.3 1599.1 37.9 1593.9 39.3C1588.8 40.7 1582.5 41.9 1576.8 43.0C1571.1 44.1 1565.4 44.9 1559.7 45.7C1554.0 46.6 1548.3 47.5 1542.6 48.3C1536.9 49.2 1531.2 50.0 1525.5 50.9C1519.8 51.8 1514.1 52.6 1508.4 53.7C1502.7 54.8 1496.2 56.1 1491.3 57.5C1486.5 58.9 1482.3 60.4 1479.3 62.1C1476.4 63.8 1474.6 66.1 1473.7 67.6C1472.8 69.0 1472.9 69.6 1473.7 71.0C1474.5 72.4 1475.8 74.5 1478.5 76.1C1481.1 77.7 1484.6 79.0 1489.6 80.4C1494.6 81.7 1502.4 83.2 1508.4 84.2C1514.4 85.2 1520.2 85.5 1525.5 86.4C1530.8 87.2 1535.5 88.4 1540.1 89.2C1544.6 90.0 1548.6 90.4 1552.9 91.1C1557.2 91.7 1561.4 92.4 1565.7 93.2C1570.0 94.0 1574.5 94.8 1578.5 95.8C1582.5 96.7 1586.4 97.7 1589.6 98.8C1592.9 99.8 1595.5 100.9 1598.2 102.2C1600.9 103.5 1603.5 105.0 1605.9 106.5C1608.3 108.0 1610.7 109.5 1612.7 111.2C1614.7 112.8 1616.4 114.5 1617.9 116.3C1619.4 118.1 1620.6 120.1 1621.6 121.9C1622.6 123.6 1623.3 125.4 1623.9 127.0C1624.4 128.6 1624.7 129.9 1624.9 131.3C1625.1 132.7 1625.2 134.7 1625.2 135.4" fill="none" stroke="#000" stroke-width="6.3" stroke-linecap="butt"/></g>
<path d="M1715.2 588.2C1713.4 588.1 1708.3 587.6 1704.6 587.4C1700.9 587.2 1696.8 587.0 1692.9 586.9C1688.9 586.8 1685.0 586.8 1681.1 586.9C1677.2 587.1 1673.3 587.4 1669.3 587.9C1665.4 588.4 1663.5 588.2 1657.6 589.9C1651.7 591.5 1641.9 594.4 1634.1 597.9C1626.2 601.3 1617.4 606.3 1610.5 610.6C1603.7 614.8 1597.6 619.4 1592.9 623.5C1588.2 627.6 1584.9 631.5 1582.3 635.2C1579.8 639.0 1578.4 644.1 1577.6 645.8M1562.9 614.7L1577.6 645.8L1608.2 629.4" fill="none" stroke="#e0534a" stroke-width="4.5" stroke-linecap="round" stroke-linejoin="round"/>
<circle cx="1511.3" cy="656.5" r="5.4" fill="#000"/>
<circle cx="1540.6" cy="667.9" r="5.4" fill="#000"/>
<circle cx="1566.6" cy="656.5" r="5.4" fill="#000"/>
<circle cx="1566.9" cy="679.9" r="5.4" fill="#000"/>
<circle cx="1592.2" cy="665.6" r="5.4" fill="#000"/>
<circle cx="1618.2" cy="665.6" r="5.4" fill="#000"/>
<circle cx="1608.5" cy="692.7" r="5.4" fill="#000"/>
<circle cx="1617.5" cy="714.6" r="5.4" fill="#000"/>
<circle cx="1654.3" cy="594.9" r="5.4" fill="#000"/>
<circle cx="1668.0" cy="608.4" r="5.4" fill="#000"/>
<circle cx="1643.0" cy="621.9" r="5.4" fill="#000"/>
<circle cx="1713.8" cy="608.4" r="5.4" fill="#000"/>
<circle cx="1749.2" cy="608.4" r="5.4" fill="#000"/>
<circle cx="1749.5" cy="608.4" r="5.4" fill="#000"/>
<circle cx="1778.8" cy="608.4" r="5.4" fill="#000"/>
<circle cx="1808.4" cy="608.4" r="5.4" fill="#000"/>
<circle cx="1839.7" cy="608.4" r="5.4" fill="#000"/>
<circle cx="1599.1" cy="609.5" r="5.0" fill="#fff" stroke="#000" stroke-width="3.0"/>
<circle cx="1622.1" cy="618.0" r="5.0" fill="#fff" stroke="#000" stroke-width="3.0"/>
<circle cx="1558.4" cy="634.6" r="5.0" fill="#fff" stroke="#000" stroke-width="3.0"/>
<circle cx="1598.2" cy="634.6" r="5.0" fill="#fff" stroke="#000" stroke-width="3.0"/>
<text x="1249.5" y="122.7" font-size="79.3" font-weight="bold" font-style="normal" text-anchor="start" fill="#000" >(b)</text>
<text x="1662.3" y="196.7" font-size="58.3" font-weight="normal" font-style="normal" text-anchor="start" fill="#000" >Vacuum Level</text>
<text x="1260.9" y="399.5" font-size="57.5">V<tspan font-size="40.5" dy="15.2">BG</tspan><tspan dy="-15.2" dx="1"> &gt; 0</tspan></text>
<text x="1149.4" y="529.9" font-size="58" font-style="italic">E<tspan font-size="38" dy="15.6" dx="-0.3">F</tspan></text>
<text x="2113.1" y="595.3" font-size="58" font-style="italic">E<tspan font-size="38" dy="15.6" dx="-0.3">C</tspan></text>
<text x="2115.8" y="690.4" font-size="58" font-style="italic">E<tspan font-size="38" dy="15.6" dx="-0.3">F</tspan></text>
<text x="1321.6" y="994.4" font-size="55.5" font-weight="normal" font-style="normal" text-anchor="start" fill="#000" >Si</text>
<text x="1522.6" y="990.4" font-size="55.3">SiO<tspan font-size="37.5" dy="14.2">2</tspan></text>
<text x="1809.2" y="990.4" font-size="55.3">MoS<tspan font-size="37.5" dy="14.2">2</tspan></text>
<circle cx="1466.4" cy="1055.7" r="10.2" fill="#000"/>
<text x="1497.2" y="1073.4" font-size="55.5" font-weight="normal" font-style="normal" text-anchor="start" fill="#000" textLength="200.5" lengthAdjust="spacingAndGlyphs">Electron</text>
<circle cx="1771.9" cy="1055.6" r="9.4" fill="#fff" stroke="#000" stroke-width="3.2"/>
<text x="1811.0" y="1073.6" font-size="55.5" font-weight="normal" font-style="normal" text-anchor="start" fill="#000" textLength="310.4" lengthAdjust="spacingAndGlyphs">Empty Traps</text>
<rect x="1232.6" y="1781.3" width="238.3" height="120.7" fill="url(#gblue)"/>
<rect x="1645.5" y="1900.3" width="433.6" height="249.7" fill="url(#ggray)"/>
<path d="M1232.6 1780.7H1470.9" stroke="#000" stroke-width="2.5" stroke-dasharray="8.4 9.0" stroke-linecap="round" fill="none"/>
<path d="M1647.5 1899.7H2079.1" stroke="#000" stroke-width="2.5" stroke-dasharray="8.4 9.0" stroke-linecap="round" fill="none"/>
<polyline points="1249.3,1431.0 1460.4,1431.0 1644.4,1516.9 2036.6,1516.9" fill="none" stroke="#000" stroke-width="2.4" stroke-linejoin="miter"/>
<polyline points="1471.2,2149.4 1471.2,1549.9 1645.2,1631.5 1645.2,2152.3" fill="none" stroke="#000" stroke-width="2.5" stroke-linejoin="miter"/>
<path d="M1644.5 1807.2C1644.9 1808.4 1645.4 1811.5 1646.8 1814.1C1648.1 1816.6 1650.0 1820.1 1652.7 1822.6C1655.4 1825.2 1659.0 1827.5 1663.0 1829.5C1667.0 1831.5 1671.6 1833.2 1676.7 1834.6C1681.8 1836.0 1688.1 1837.2 1693.8 1838.0C1699.5 1838.9 1703.8 1839.3 1710.9 1839.7C1718.0 1840.1 1732.3 1840.4 1736.5 1840.6H2070.7" fill="none" stroke="#000" stroke-width="2.5"/>
<g transform="translate(0 1756.8) scale(1 1.28)"><path d="M1638.7 0.0C1638.6 1.9 1638.6 7.5 1638.2 11.4C1637.8 15.3 1637.3 19.8 1636.5 23.4C1635.6 26.9 1634.9 29.6 1633.1 32.7C1631.2 35.9 1628.7 39.4 1625.4 42.1C1622.1 44.8 1618.2 46.8 1613.4 48.8C1608.6 50.8 1602.6 52.4 1596.3 54.1C1590.0 55.8 1582.6 57.2 1575.8 58.8C1568.9 60.3 1561.8 61.8 1555.3 63.5C1548.7 65.1 1542.4 66.8 1536.4 68.8C1530.5 70.8 1524.0 73.0 1519.3 75.5C1514.6 77.9 1510.7 81.1 1508.2 83.5C1505.7 86.0 1504.3 87.7 1504.3 90.2C1504.3 92.6 1505.1 95.8 1508.2 98.2C1511.3 100.7 1517.2 102.9 1522.8 104.9C1528.3 106.9 1535.0 108.7 1541.6 110.2C1548.1 111.8 1555.3 112.8 1562.1 114.2C1568.9 115.7 1576.3 117.2 1582.6 118.9C1588.9 120.6 1594.3 122.1 1599.7 124.3C1605.1 126.4 1610.6 128.8 1615.1 131.6C1619.7 134.4 1623.8 137.6 1627.1 141.0C1630.4 144.3 1632.8 148.1 1634.8 151.7C1636.7 155.2 1637.9 158.3 1638.7 162.3C1639.6 166.4 1639.7 173.5 1639.9 175.7" fill="none" stroke="#000" stroke-width="7.2" stroke-linecap="round"/></g>
<circle cx="1616.3" cy="1908.1" r="5.0" fill="#000"/>
<circle cx="1639.1" cy="1908.1" r="5.0" fill="#000"/>
<circle cx="1639.1" cy="1925.2" r="5.0" fill="#000"/>
<circle cx="1778.1" cy="1833.3" r="5.0" fill="#000"/>
<circle cx="1807.4" cy="1833.3" r="5.0" fill="#000"/>
<circle cx="1837.0" cy="1833.3" r="5.0" fill="#000"/>
<circle cx="1867.0" cy="1833.3" r="5.0" fill="#000"/>
<circle cx="1619.9" cy="1833.4" r="4.6" fill="#fff" stroke="#000" stroke-width="2.8"/>
<circle cx="1634.8" cy="1841.9" r="4.6" fill="#fff" stroke="#000" stroke-width="2.8"/>
<circle cx="1596.6" cy="1847.1" r="4.6" fill="#fff" stroke="#000" stroke-width="2.8"/>
<circle cx="1618.5" cy="1847.9" r="4.6" fill="#fff" stroke="#000" stroke-width="2.8"/>
<circle cx="1541.2" cy="1872.2" r="4.6" fill="#fff" stroke="#000" stroke-width="2.8"/>
<circle cx="1591.2" cy="1871.9" r="4.6" fill="#fff" stroke="#000" stroke-width="2.8"/>
<circle cx="1562.6" cy="1882.1" r="4.6" fill="#fff" stroke="#000" stroke-width="2.8"/>
<circle cx="1609.6" cy="1879.6" r="4.6" fill="#fff" stroke="#000" stroke-width="2.8"/>
<circle cx="1637.0" cy="1879.9" r="4.6" fill="#fff" stroke="#000" stroke-width="2.8"/>
<circle cx="1591.2" cy="1888.1" r="4.6" fill="#fff" stroke="#000" stroke-width="2.8"/>
<path d="M1617.7 1866.2C1619.0 1862.4 1622.7 1850.1 1625.4 1843.1C1628.1 1836.2 1630.7 1830.3 1633.9 1824.3C1637.1 1818.3 1640.3 1812.1 1644.5 1807.2C1648.8 1802.4 1654.2 1798.4 1659.6 1795.3C1664.9 1792.1 1670.4 1790.0 1676.7 1788.4C1683.0 1786.8 1690.6 1785.6 1697.2 1785.8C1703.8 1786.1 1710.0 1788.0 1716.0 1790.1C1722.0 1792.3 1727.8 1795.3 1733.1 1798.7C1738.4 1802.0 1745.2 1808.4 1747.7 1810.3M1748.5 1779.9L1748.5 1810.6L1714.3 1809.8" fill="none" stroke="#e0534a" stroke-width="4.6" stroke-linecap="round" stroke-linejoin="round"/>
<text x="1251.7" y="1239.4" font-size="79.3" font-weight="bold" font-style="normal" text-anchor="start" fill="#000" >(c)</text>
<text x="1662.3" y="1396.6" font-size="58.3" font-weight="normal" font-style="normal" text-anchor="start" fill="#000" >Vacuum Level</text>
<text x="1260.9" y="1599.9" font-size="57.5">V<tspan font-size="40.5" dy="15.2">BG</tspan><tspan dy="-15.2" dx="-1.7"> &lt; 0</tspan></text>
<text x="1149.4" y="1730.9" font-size="58" font-style="italic">E<tspan font-size="38" dy="15.6" dx="-0.3">F</tspan></text>
<text x="2113.1" y="1822.3" font-size="58" font-style="italic">E<tspan font-size="38" dy="15.6" dx="-0.3">C</tspan></text>
<text x="2115.8" y="1918.1" font-size="58" font-style="italic">E<tspan font-size="38" dy="15.6" dx="-0.3">F</tspan></text>
<text x="1321.6" y="2195.5" font-size="55.5" font-weight="normal" font-style="normal" text-anchor="start" fill="#000" >Si</text>
<text x="1522.6" y="2191.5" font-size="55.3">SiO<tspan font-size="37.5" dy="14.2">2</tspan></text>
<text x="1809.2" y="2191.5" font-size="55.3">MoS<tspan font-size="37.5" dy="14.2">2</tspan></text>
<circle cx="1468.6" cy="2257.0" r="9.2" fill="#000"/>
<text x="1502.3" y="2277.8" font-size="55.5" font-weight="normal" font-style="normal" text-anchor="start" fill="#000" textLength="200.5" lengthAdjust="spacingAndGlyphs">Electron</text>
<circle cx="1784.4" cy="2257.0" r="8.4" fill="#fff" stroke="#000" stroke-width="3.2"/>
<text x="1816.6" y="2275.2" font-size="55.5" font-weight="normal" font-style="normal" text-anchor="start" fill="#000" textLength="310.4" lengthAdjust="spacingAndGlyphs">Empty Traps</text>
</svg>
</body>
</html>
